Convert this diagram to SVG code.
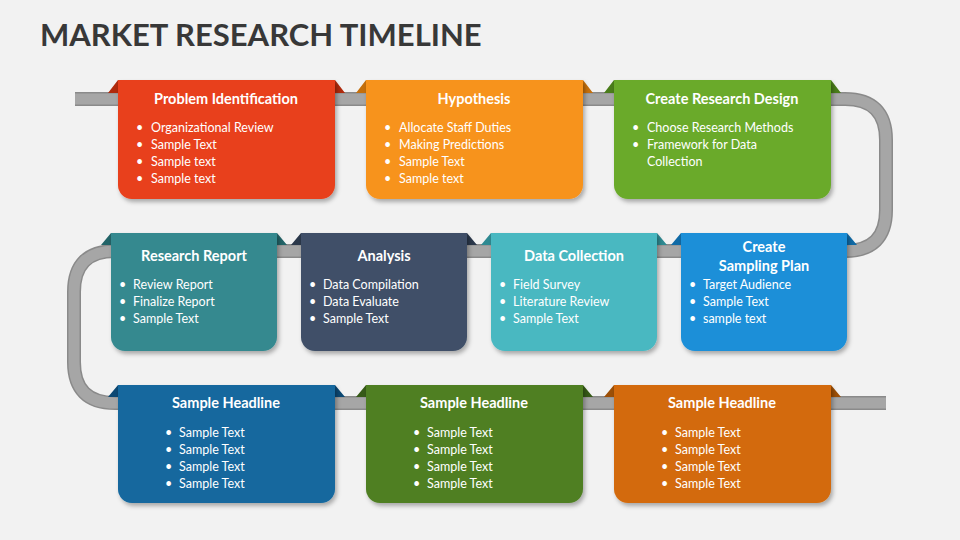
<svg xmlns="http://www.w3.org/2000/svg" width="960" height="540" viewBox="0 0 960 540">
<style>
.t{font-family:Lato,"Liberation Sans",sans-serif;font-weight:bold;font-size:14.5px;fill:#fff;text-anchor:middle}
.b{font-family:Lato,"Liberation Sans",sans-serif;font-size:12.5px;fill:#fff}
.f{filter:url(#sh)}
</style>
<defs>
<filter id="sh" x="-10%" y="-10%" width="125%" height="130%"><feDropShadow dx="2" dy="3" stdDeviation="2" flood-color="#000" flood-opacity="0.3"/></filter>
</defs>
<rect width="960" height="540" fill="#f2f2f2"/>
<text x="40" y="46" font-family="Lato,'Liberation Sans',sans-serif" font-weight="bold" font-size="31" fill="#383838">MARKET RESEARCH TIMELINE</text>
<g id="connectors">
<path d="M75 99 H845 Q886 99 886 140 V210 Q886 251 845 251 H115 Q74 251 74 292 V362 Q74 403 115 403 H886" fill="none" stroke="#8a8a8a" stroke-width="14"/>
<path d="M75 99 H845 Q886 99 886 140 V210 Q886 251 845 251 H115 Q74 251 74 292 V362 Q74 403 115 403 H886" fill="none" stroke="#a6a6a6" stroke-width="11"/>
</g>
<g id="n1"><path d="M108 93 L118 80 V93Z M335 80 L345 93 H335Z" fill="#b02a0c"/><path class="f" d="M118 80 h217 v105 a14 14 0 0 1 -14 14 h-189 a14 14 0 0 1 -14 -14z" fill="#e8401a"/>
<text class="t" x="226" y="104">Problem Identification</text>
<text class="b" x="136" y="132">•</text><text class="b" x="151" y="132">Organizational Review</text>
<text class="b" x="136" y="149">•</text><text class="b" x="151" y="149">Sample Text</text>
<text class="b" x="136" y="166">•</text><text class="b" x="151" y="166">Sample text</text>
<text class="b" x="136" y="183">•</text><text class="b" x="151" y="183">Sample text</text></g>
<g id="n2"><path d="M356 93 L366 80 V93Z M583 80 L593 93 H583Z" fill="#c46f0c"/><path class="f" d="M366 80 h217 v105 a14 14 0 0 1 -14 14 h-189 a14 14 0 0 1 -14 -14z" fill="#f7931e"/>
<text class="t" x="474" y="104">Hypothesis</text>
<text class="b" x="384" y="132">•</text><text class="b" x="399" y="132">Allocate Staff Duties</text>
<text class="b" x="384" y="149">•</text><text class="b" x="399" y="149">Making Predictions</text>
<text class="b" x="384" y="166">•</text><text class="b" x="399" y="166">Sample Text</text>
<text class="b" x="384" y="183">•</text><text class="b" x="399" y="183">Sample text</text></g>
<g id="n3"><path d="M604 93 L614 80 V93Z M831 80 L841 93 H831Z" fill="#4a7d1a"/><path class="f" d="M614 80 h217 v105 a14 14 0 0 1 -14 14 h-189 a14 14 0 0 1 -14 -14z" fill="#6aaa2a"/>
<text class="t" x="722" y="104">Create Research Design</text>
<text class="b" x="632" y="132">•</text><text class="b" x="647" y="132">Choose Research Methods</text>
<text class="b" x="632" y="149">•</text><text class="b" x="647" y="149">Framework for Data</text>
<text class="b" x="647" y="166">Collection</text></g>
<g id="n4"><path d="M101 245 L111 233 V245Z M277 233 L287 245 H277Z" fill="#236468"/><path class="f" d="M111 233 h166 v104 a14 14 0 0 1 -14 14 h-138 a14 14 0 0 1 -14 -14z" fill="#35898f"/>
<text class="t" x="194" y="261">Research Report</text>
<text class="b" x="119" y="289">•</text><text class="b" x="133" y="289">Review Report</text>
<text class="b" x="119" y="306">•</text><text class="b" x="133" y="306">Finalize Report</text>
<text class="b" x="119" y="323">•</text><text class="b" x="133" y="323">Sample Text</text></g>
<g id="n5"><path d="M291 245 L301 233 V245Z M467 233 L477 245 H467Z" fill="#2b384b"/><path class="f" d="M301 233 h166 v104 a14 14 0 0 1 -14 14 h-138 a14 14 0 0 1 -14 -14z" fill="#3f5068"/>
<text class="t" x="384" y="261">Analysis</text>
<text class="b" x="309" y="289">•</text><text class="b" x="323" y="289">Data Compilation</text>
<text class="b" x="309" y="306">•</text><text class="b" x="323" y="306">Data Evaluate</text>
<text class="b" x="309" y="323">•</text><text class="b" x="323" y="323">Sample Text</text></g>
<g id="n6"><path d="M481 245 L491 233 V245Z M657 233 L667 245 H657Z" fill="#2f8a92"/><path class="f" d="M491 233 h166 v104 a14 14 0 0 1 -14 14 h-138 a14 14 0 0 1 -14 -14z" fill="#4ab8c1"/>
<text class="t" x="574" y="261">Data Collection</text>
<text class="b" x="499" y="289">•</text><text class="b" x="513" y="289">Field Survey</text>
<text class="b" x="499" y="306">•</text><text class="b" x="513" y="306">Literature Review</text>
<text class="b" x="499" y="323">•</text><text class="b" x="513" y="323">Sample Text</text></g>
<g id="n7"><path d="M671 245 L681 233 V245Z M847 233 L857 245 H847Z" fill="#106aa6"/><path class="f" d="M681 233 h166 v104 a14 14 0 0 1 -14 14 h-138 a14 14 0 0 1 -14 -14z" fill="#1b8fd8"/>
<text class="t" x="764" y="252">Create</text><text class="t" x="764" y="271">Sampling Plan</text>
<text class="b" x="689" y="289">•</text><text class="b" x="703" y="289">Target Audience</text>
<text class="b" x="689" y="306">•</text><text class="b" x="703" y="306">Sample Text</text>
<text class="b" x="689" y="323">•</text><text class="b" x="703" y="323">sample text</text></g>
<g id="n8"><path d="M108 397 L118 385 V397Z M335 385 L345 397 H335Z" fill="#0c4873"/><path class="f" d="M118 385 h217 v104 a14 14 0 0 1 -14 14 h-189 a14 14 0 0 1 -14 -14z" fill="#13679e"/>
<text class="t" x="226" y="408">Sample Headline</text>
<text class="b" x="165" y="437">•</text><text class="b" x="179" y="437">Sample Text</text>
<text class="b" x="165" y="454">•</text><text class="b" x="179" y="454">Sample Text</text>
<text class="b" x="165" y="471">•</text><text class="b" x="179" y="471">Sample Text</text>
<text class="b" x="165" y="488">•</text><text class="b" x="179" y="488">Sample Text</text></g>
<g id="n9"><path d="M356 397 L366 385 V397Z M583 385 L593 397 H583Z" fill="#365a17"/><path class="f" d="M366 385 h217 v104 a14 14 0 0 1 -14 14 h-189 a14 14 0 0 1 -14 -14z" fill="#4f7f24"/>
<text class="t" x="474" y="408">Sample Headline</text>
<text class="b" x="413" y="437">•</text><text class="b" x="427" y="437">Sample Text</text>
<text class="b" x="413" y="454">•</text><text class="b" x="427" y="454">Sample Text</text>
<text class="b" x="413" y="471">•</text><text class="b" x="427" y="471">Sample Text</text>
<text class="b" x="413" y="488">•</text><text class="b" x="427" y="488">Sample Text</text></g>
<g id="n10"><path d="M604 397 L614 385 V397Z M831 385 L841 397 H831Z" fill="#9c4f07"/><path class="f" d="M614 385 h217 v104 a14 14 0 0 1 -14 14 h-189 a14 14 0 0 1 -14 -14z" fill="#d36b0a"/>
<text class="t" x="722" y="408">Sample Headline</text>
<text class="b" x="661" y="437">•</text><text class="b" x="675" y="437">Sample Text</text>
<text class="b" x="661" y="454">•</text><text class="b" x="675" y="454">Sample Text</text>
<text class="b" x="661" y="471">•</text><text class="b" x="675" y="471">Sample Text</text>
<text class="b" x="661" y="488">•</text><text class="b" x="675" y="488">Sample Text</text></g>
</svg>
